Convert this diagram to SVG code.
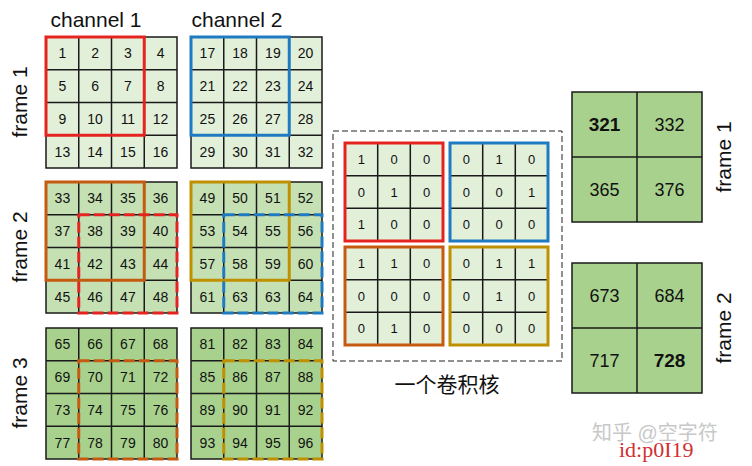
<svg xmlns="http://www.w3.org/2000/svg" width="752" height="466" viewBox="0 0 752 466">
<style>
text{font-family:"Liberation Sans","Noto Sans CJK SC",sans-serif;fill:#111}
.n{font-size:14px;text-anchor:middle;dominant-baseline:central}
.k{font-size:13px;text-anchor:middle;dominant-baseline:central}
.o{font-size:18px;text-anchor:middle;dominant-baseline:central}
.b{font-weight:bold;font-size:19px}
.lab{font-size:21px;text-anchor:middle}
.grid{stroke:#1a1a1a;stroke-width:1.5;fill:none}
.f1{fill:#e2efd9}.f2{fill:#c5e0b3}.f3{fill:#a9d18e}
.hl{fill:none;stroke-width:3}
.dash{stroke-dasharray:11 4}
</style>
<g id="labels">
<text class="lab" x="96" y="27">channel 1</text>
<text class="lab" x="237" y="27">channel 2</text>
<text class="lab" transform="translate(27,102) rotate(-90)">frame 1</text>
<text class="lab" transform="translate(27,247) rotate(-90)">frame 2</text>
<text class="lab" transform="translate(27,393) rotate(-90)">frame 3</text>
</g>
<g id="f1c1">
<rect class="f1" x="46" y="37" width="131" height="131"/>
<path class="grid" d="M46 37h131v131h-131zM78.75 37v131M111.5 37v131M144.25 37v131M46 69.75h131M46 102.5h131M46 135.25h131"/>
<text class="n" x="62.4" y="53.4">1</text><text class="n" x="95.1" y="53.4">2</text><text class="n" x="127.9" y="53.4">3</text><text class="n" x="160.6" y="53.4">4</text>
<text class="n" x="62.4" y="86.1">5</text><text class="n" x="95.1" y="86.1">6</text><text class="n" x="127.9" y="86.1">7</text><text class="n" x="160.6" y="86.1">8</text>
<text class="n" x="62.4" y="118.9">9</text><text class="n" x="95.1" y="118.9">10</text><text class="n" x="127.9" y="118.9">11</text><text class="n" x="160.6" y="118.9">12</text>
<text class="n" x="62.4" y="151.6">13</text><text class="n" x="95.1" y="151.6">14</text><text class="n" x="127.9" y="151.6">15</text><text class="n" x="160.6" y="151.6">16</text>
<rect class="hl" stroke="#e52421" x="46" y="37" width="98.25" height="98.25"/>
</g>
<g id="f1c2">
<rect class="f1" x="191" y="37" width="131" height="131"/>
<path class="grid" d="M191 37h131v131h-131zM223.75 37v131M256.5 37v131M289.25 37v131M191 69.75h131M191 102.5h131M191 135.25h131"/>
<text class="n" x="207.4" y="53.4">17</text><text class="n" x="240.1" y="53.4">18</text><text class="n" x="272.9" y="53.4">19</text><text class="n" x="305.6" y="53.4">20</text>
<text class="n" x="207.4" y="86.1">21</text><text class="n" x="240.1" y="86.1">22</text><text class="n" x="272.9" y="86.1">23</text><text class="n" x="305.6" y="86.1">24</text>
<text class="n" x="207.4" y="118.9">25</text><text class="n" x="240.1" y="118.9">26</text><text class="n" x="272.9" y="118.9">27</text><text class="n" x="305.6" y="118.9">28</text>
<text class="n" x="207.4" y="151.6">29</text><text class="n" x="240.1" y="151.6">30</text><text class="n" x="272.9" y="151.6">31</text><text class="n" x="305.6" y="151.6">32</text>
<rect class="hl" stroke="#1f7bc1" x="191" y="37" width="98.25" height="98.25"/>
</g>
<g id="f2c1">
<rect class="f2" x="46" y="182" width="131" height="131"/>
<path class="grid" d="M46 182h131v131h-131zM78.75 182v131M111.5 182v131M144.25 182v131M46 214.75h131M46 247.5h131M46 280.25h131"/>
<text class="n" x="62.4" y="198.4">33</text><text class="n" x="95.1" y="198.4">34</text><text class="n" x="127.9" y="198.4">35</text><text class="n" x="160.6" y="198.4">36</text>
<text class="n" x="62.4" y="231.1">37</text><text class="n" x="95.1" y="231.1">38</text><text class="n" x="127.9" y="231.1">39</text><text class="n" x="160.6" y="231.1">40</text>
<text class="n" x="62.4" y="263.9">41</text><text class="n" x="95.1" y="263.9">42</text><text class="n" x="127.9" y="263.9">43</text><text class="n" x="160.6" y="263.9">44</text>
<text class="n" x="62.4" y="296.6">45</text><text class="n" x="95.1" y="296.6">46</text><text class="n" x="127.9" y="296.6">47</text><text class="n" x="160.6" y="296.6">48</text>
<rect class="hl" stroke="#c55a11" x="46" y="182" width="98.25" height="98.25"/>
<rect class="hl dash" stroke="#e52421" x="78.75" y="214.75" width="98.25" height="98.25"/>
</g>
<g id="f2c2">
<rect class="f2" x="191" y="182" width="131" height="131"/>
<path class="grid" d="M191 182h131v131h-131zM223.75 182v131M256.5 182v131M289.25 182v131M191 214.75h131M191 247.5h131M191 280.25h131"/>
<text class="n" x="207.4" y="198.4">49</text><text class="n" x="240.1" y="198.4">50</text><text class="n" x="272.9" y="198.4">51</text><text class="n" x="305.6" y="198.4">52</text>
<text class="n" x="207.4" y="231.1">53</text><text class="n" x="240.1" y="231.1">54</text><text class="n" x="272.9" y="231.1">55</text><text class="n" x="305.6" y="231.1">56</text>
<text class="n" x="207.4" y="263.9">57</text><text class="n" x="240.1" y="263.9">58</text><text class="n" x="272.9" y="263.9">59</text><text class="n" x="305.6" y="263.9">60</text>
<text class="n" x="207.4" y="296.6">61</text><text class="n" x="240.1" y="296.6">63</text><text class="n" x="272.9" y="296.6">63</text><text class="n" x="305.6" y="296.6">64</text>
<rect class="hl" stroke="#bf9000" x="191" y="182" width="98.25" height="98.25"/>
<rect class="hl dash" stroke="#1f7bc1" x="223.75" y="214.75" width="98.25" height="98.25"/>
</g>
<g id="f3c1">
<rect class="f3" x="46" y="328" width="131" height="131"/>
<path class="grid" d="M46 328h131v131h-131zM78.75 328v131M111.5 328v131M144.25 328v131M46 360.75h131M46 393.5h131M46 426.25h131"/>
<text class="n" x="62.4" y="344.4">65</text><text class="n" x="95.1" y="344.4">66</text><text class="n" x="127.9" y="344.4">67</text><text class="n" x="160.6" y="344.4">68</text>
<text class="n" x="62.4" y="377.1">69</text><text class="n" x="95.1" y="377.1">70</text><text class="n" x="127.9" y="377.1">71</text><text class="n" x="160.6" y="377.1">72</text>
<text class="n" x="62.4" y="409.9">73</text><text class="n" x="95.1" y="409.9">74</text><text class="n" x="127.9" y="409.9">75</text><text class="n" x="160.6" y="409.9">76</text>
<text class="n" x="62.4" y="442.6">77</text><text class="n" x="95.1" y="442.6">78</text><text class="n" x="127.9" y="442.6">79</text><text class="n" x="160.6" y="442.6">80</text>
<rect class="hl dash" stroke="#c55a11" x="78.75" y="360.75" width="98.25" height="98.25"/>
</g>
<g id="f3c2">
<rect class="f3" x="191" y="328" width="131" height="131"/>
<path class="grid" d="M191 328h131v131h-131zM223.75 328v131M256.5 328v131M289.25 328v131M191 360.75h131M191 393.5h131M191 426.25h131"/>
<text class="n" x="207.4" y="344.4">81</text><text class="n" x="240.1" y="344.4">82</text><text class="n" x="272.9" y="344.4">83</text><text class="n" x="305.6" y="344.4">84</text>
<text class="n" x="207.4" y="377.1">85</text><text class="n" x="240.1" y="377.1">86</text><text class="n" x="272.9" y="377.1">87</text><text class="n" x="305.6" y="377.1">88</text>
<text class="n" x="207.4" y="409.9">89</text><text class="n" x="240.1" y="409.9">90</text><text class="n" x="272.9" y="409.9">91</text><text class="n" x="305.6" y="409.9">92</text>
<text class="n" x="207.4" y="442.6">93</text><text class="n" x="240.1" y="442.6">94</text><text class="n" x="272.9" y="442.6">95</text><text class="n" x="305.6" y="442.6">96</text>
<rect class="hl dash" stroke="#bf9000" x="223.75" y="360.75" width="98.25" height="98.25"/>
</g>
<g id="kernel">
<rect x="333" y="131" width="229" height="230" fill="none" stroke="#222" stroke-width="1" stroke-dasharray="6 3"/>
<rect class="f1" x="345" y="143" width="98" height="98"/><rect class="f1" x="450" y="143" width="98" height="98"/>
<rect class="f1" x="345" y="247" width="98" height="98"/><rect class="f1" x="450" y="247" width="98" height="98"/>
<path class="grid" d="M377.7 143v98M410.3 143v98M345 175.7h98M345 208.3h98M482.7 143v98M515.3 143v98M450 175.7h98M450 208.3h98M377.7 247v98M410.3 247v98M345 279.7h98M345 312.3h98M482.7 247v98M515.3 247v98M450 279.7h98M450 312.3h98"/>
<rect class="hl" stroke="#e52421" x="345" y="143" width="98" height="98"/>
<rect class="hl" stroke="#1f7bc1" x="450" y="143" width="98" height="98"/>
<rect class="hl" stroke="#c55a11" x="345" y="247" width="98" height="98"/>
<rect class="hl" stroke="#bf9000" x="450" y="247" width="98" height="98"/>
<text class="k" x="361.3" y="159.3">1</text><text class="k" x="394" y="159.3">0</text><text class="k" x="426.7" y="159.3">0</text>
<text class="k" x="361.3" y="192">0</text><text class="k" x="394" y="192">1</text><text class="k" x="426.7" y="192">0</text>
<text class="k" x="361.3" y="224.7">1</text><text class="k" x="394" y="224.7">0</text><text class="k" x="426.7" y="224.7">0</text>
<text class="k" x="466.3" y="159.3">0</text><text class="k" x="499" y="159.3">1</text><text class="k" x="531.7" y="159.3">0</text>
<text class="k" x="466.3" y="192">0</text><text class="k" x="499" y="192">0</text><text class="k" x="531.7" y="192">1</text>
<text class="k" x="466.3" y="224.7">0</text><text class="k" x="499" y="224.7">0</text><text class="k" x="531.7" y="224.7">0</text>
<text class="k" x="361.3" y="263.3">1</text><text class="k" x="394" y="263.3">1</text><text class="k" x="426.7" y="263.3">0</text>
<text class="k" x="361.3" y="296">0</text><text class="k" x="394" y="296">0</text><text class="k" x="426.7" y="296">0</text>
<text class="k" x="361.3" y="328.7">0</text><text class="k" x="394" y="328.7">1</text><text class="k" x="426.7" y="328.7">0</text>
<text class="k" x="466.3" y="263.3">0</text><text class="k" x="499" y="263.3">1</text><text class="k" x="531.7" y="263.3">1</text>
<text class="k" x="466.3" y="296">0</text><text class="k" x="499" y="296">1</text><text class="k" x="531.7" y="296">0</text>
<text class="k" x="466.3" y="328.7">0</text><text class="k" x="499" y="328.7">0</text><text class="k" x="531.7" y="328.7">0</text>
<text class="lab" x="447" y="392">一个卷积核</text>
</g>
<g id="out1">
<rect class="f3" x="572" y="92" width="130" height="130"/>
<path class="grid" d="M572 92h130v130h-130zM637 92v130M572 157h130"/>
<text class="o b" x="604.5" y="124.5">321</text><text class="o" x="669.5" y="124.5">332</text>
<text class="o" x="604.5" y="189.5">365</text><text class="o" x="669.5" y="189.5">376</text>
<text class="lab" transform="translate(731,157) rotate(-90)">frame 1</text>
</g>
<g id="out2">
<rect class="f3" x="572" y="263" width="130" height="130"/>
<path class="grid" d="M572 263h130v130h-130zM637 263v130M572 328h130"/>
<text class="o" x="604.5" y="295.5">673</text><text class="o" x="669.5" y="295.5">684</text>
<text class="o" x="604.5" y="360.5">717</text><text class="o b" x="669.5" y="360.5">728</text>
<text class="lab" transform="translate(731,328) rotate(-90)">frame 2</text>
</g>
<g id="watermark">
<text x="592" y="440" font-size="20" style="fill:#c8c8c8">知乎 @空字符</text>
<text x="619" y="457" font-size="22" style="fill:#d03030;font-family:'Liberation Serif',serif">id:p0I19</text>
</g>
</svg>
